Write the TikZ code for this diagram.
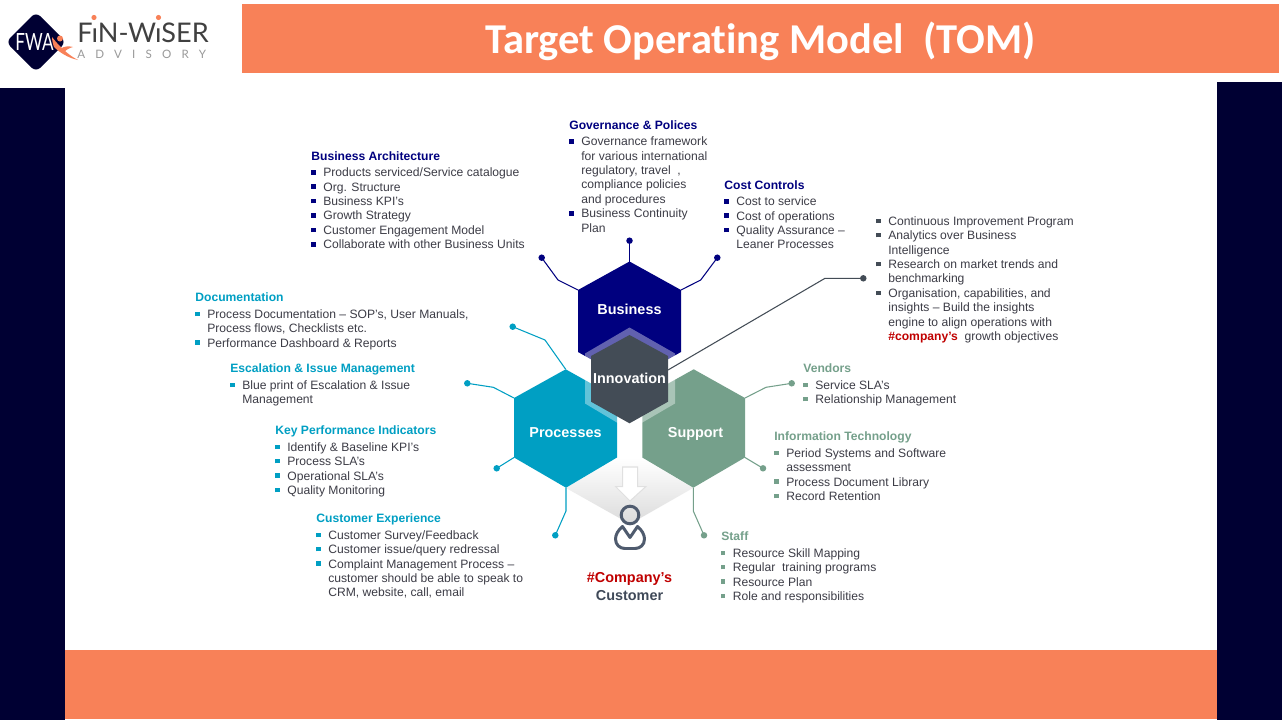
\documentclass[tikz,border=0pt]{standalone}
\usepackage{fontspec}
\setmainfont{Liberation Sans}
\newfontfamily\titlefont[Ligatures=NoCommon]{Carlito}
\newfontfamily\logofont{Lato}
\newfontfamily\spacedfont[LetterSpace=88]{Lato}
\usetikzlibrary{positioning}

\definecolor{orangeBar}{HTML}{F88158}
\definecolor{navyBand}{HTML}{000033}
\definecolor{bizBlue}{HTML}{00007F}
\definecolor{procTeal}{HTML}{009FC3}
\definecolor{suppGreen}{HTML}{75A08B}
\definecolor{innoGrey}{HTML}{434C56}
\definecolor{bodyGrey}{HTML}{3C3C46}
\definecolor{redText}{HTML}{C00000}
\definecolor{iconGrey}{HTML}{4F5B6E}

% bullet of a list, its colour comes from the list style
\newcommand{\blt}{\makebox[6.83pt][l]{\rule{0pt}{6pt}\textcolor{bulletColor}{\rule[1.2pt]{2.6pt}{2.6pt}}}}
\newcommand{\ind}{\hspace*{6.83pt}}

\begin{document}
\begin{tikzpicture}[%
    x=0.02cm,
    y=-0.02cm,
    hexLabel/.style={%
        inner sep=0pt,
        text=white,
        font=\fontsize{8.2}{9}\selectfont\bfseries
    },
    heading/.style={%
        anchor=base west,
        inner sep=0pt,
        yshift=-0.01cm,
        font=\fontsize{6.9}{8.2}\selectfont\bfseries
    },
    itemList/.style={%
        anchor=north west,
        inner sep=0pt,
        align=left,
        text=bodyGrey,
        font=\fontsize{6.9}{8.2}\selectfont
    },
    bizList/.style={itemList,execute at begin node={\colorlet{bulletColor}{bizBlue}}},
    procList/.style={itemList,execute at begin node={\colorlet{bulletColor}{procTeal}}},
    suppList/.style={itemList,execute at begin node={\colorlet{bulletColor}{suppGreen}}},
    innoList/.style={itemList,execute at begin node={\colorlet{bulletColor}{innoGrey}}},
    endDot/.style={%
        draw=none,
        circle,
        inner sep=0pt,
        minimum size=0.13cm
    },
    bizLine/.style={draw=bizBlue,line width=0.6pt},
    procLine/.style={draw=procTeal,line width=0.6pt},
    suppLine/.style={draw=suppGreen,line width=0.6pt}
]
\useasboundingbox (0,0) rectangle (1282,720);

% Bands
    \fill[white] (0,0) rectangle (1282,720);
    \fill[navyBand] (0,88) rectangle (65,720);
    \fill[navyBand] (1217,82) rectangle (1282,720);
    \fill[orangeBar] (65,650) rectangle (1217,719);
    \fill[orangeBar] (242,4) rectangle (1279,73);
    \node[inner sep=0pt,text=white,font=\fontsize{24.2}{26}\selectfont\titlefont\bfseries] (title) at (760.5,41) {Target Operating Model\ \ (TOM)};

% Logo
    \fill[navyBand,rounded corners=0.12cm] (36,12) -- (66,42) -- (36,72) -- (6,42) -- cycle;
    \node[inner sep=0pt,text=white,font=\fontsize{13.5}{14}\selectfont\logofont] (logoFWA) at (34.5,42) {\scalebox{0.72}[1]{FWA}};
    \fill[orangeBar] (52,37) .. controls (59,46) and (68,55) .. (78,60) .. controls (68,58) and (59,52) .. (54,47) .. controls (53,44) and (52,40) .. (52,37) -- cycle;
    \fill[orangeBar] (60,49) .. controls (64,46) and (69,46) .. (73,47) .. controls (69,48) and (66,50) .. (63,53) -- cycle;
    \fill[orangeBar] (60,38.5) circle (3);
    \node[inner sep=0pt,anchor=west,text=black!75,font=\fontsize{15.4}{16}\selectfont\logofont] (logoName) at (77,32.5) {F{\i}N-W{\i}SER};
    \fill[orangeBar] (94,17.5) circle (2.6);
    \fill[orangeBar] (158.5,17.5) circle (2.6);
    \node[inner sep=0pt,anchor=west,text=black!40,font=\fontsize{6.6}{8}\selectfont\spacedfont] (logoAdvisory) at (77,54) {ADVISORY};

% Customer funnel
    \shade[top color=white,bottom color=black!14] (566,488) -- (617,458) -- (642,458) -- (693,488) -- (630,524) -- cycle;
    \draw[draw=black!12,fill=white,line width=0.6pt] (622.7,467) -- (637.7,467) -- (637.7,486.7) -- (645.7,486.7) -- (630,501) -- (615.7,486.7) -- (622.7,486.7) -- cycle;

% Hexagons
    \fill[bizBlue] (629.5,261.5) coordinate (bizTop) -- (681,290) coordinate (bizRight) -- (681,352) -- (629.5,381) -- (578,352) -- (578,290) coordinate (bizLeft) -- cycle;
    \fill[procTeal] (565.7,369.3) coordinate (procTop) -- (617,398) -- (617,457.5) -- (566,487.7) coordinate (procBottom) -- (514,457.5) coordinate (procLow) -- (514,398) coordinate (procLeft) -- cycle;
    \fill[suppGreen] (693.7,369.3) -- (745,398) coordinate (suppRight) -- (745,457.5) coordinate (suppLow) -- (693.3,487.7) coordinate (suppBottom) -- (642.3,457.5) -- (642.3,398) -- cycle;
    \fill[white,opacity=0.38] (629.5,327.5) -- (675,353.5) -- (675,403.5) -- (629.5,430) -- (585,403.5) -- (585,353.5) -- cycle;
    \fill[innoGrey] (629.5,335) -- (668,356) -- (668,401.7) -- (629.5,423.3) -- (591,401.7) -- (591,356) -- cycle;
    \coordinate (innoRight) at (668,370);

    \node[hexLabel] (business) at (629.5,309) {Business};
    \node[hexLabel] (innovation) at (629.5,378) {Innovation};
    \node[hexLabel] (processes) at (565.5,432.5) {Processes};
    \node[hexLabel] (support) at (695.5,433.5) {Support};

% Person
    \draw[draw=iconGrey,line width=1.7pt] (630,515) circle (8.8);
    \draw[draw=iconGrey,fill=white,line width=1.7pt,line join=round] (622.5,526.5) -- (630,537.5) -- (637.5,526.5) .. controls (642,530) and (644.5,535) .. (644.5,539) .. controls (644.5,545) and (640,548.5) .. (635,548.5) -- (625,548.5) .. controls (620,548.5) and (615.5,545) .. (615.5,539) .. controls (615.5,535) and (618,530) .. (622.5,526.5) -- cycle;
    \node[inner sep=0pt,text=redText,font=\fontsize{8.2}{9}\selectfont\bfseries] (companyName) at (629.5,578.5) {\#Company’s};
    \node[inner sep=0pt,text=iconGrey!80!black,font=\fontsize{8.2}{9}\selectfont\bfseries] (customer) at (629.5,595.5) {Customer};

% End dots
    \node[endDot,fill=bizBlue] (dotArch) at (541.7,257.7) {};
    \node[endDot,fill=bizBlue] (dotGov) at (629.5,240.7) {};
    \node[endDot,fill=bizBlue] (dotCost) at (717.3,257.7) {};
    \node[endDot,fill=procTeal] (dotDoc) at (512.7,326.7) {};
    \node[endDot,fill=procTeal] (dotEsc) at (467.3,383.3) {};
    \node[endDot,fill=procTeal] (dotKpi) at (496.7,468.3) {};
    \node[endDot,fill=procTeal] (dotCx) at (555.3,535.3) {};
    \node[endDot,fill=suppGreen] (dotVendor) at (791.7,383.3) {};
    \node[endDot,fill=suppGreen] (dotIt) at (763,468.3) {};
    \node[endDot,fill=suppGreen] (dotStaff) at (704,535.3) {};
    \node[endDot,fill=innoGrey] (dotInno) at (863.3,278.3) {};

% Connectors
\draw[bizLine] (dotArch.center) -- (558,280) -- (bizLeft);
\draw[bizLine] (dotGov.center) -- (bizTop);
\draw[bizLine] (dotCost.center) -- (700.7,280) -- (bizRight);
\draw[procLine] (dotDoc.center) -- (545,340) -- (procTop);
\draw[procLine] (dotEsc.center) -- (493.3,387.3) -- (procLeft);
\draw[procLine] (dotKpi.center) -- (procLow);
\draw[procLine] (dotCx.center) -- (566,511) -- (procBottom);
\draw[suppLine] (dotVendor.center) -- (766,387.3) -- (suppRight);
\draw[suppLine] (dotIt.center) -- (suppLow);
\draw[suppLine] (dotStaff.center) -- (693.3,511) -- (suppBottom);
\draw[draw=innoGrey,line width=0.6pt] (dotInno.center) -- (825,278.3) -- (innoRight);

% Business texts
    \node[heading,text=bizBlue] (archHead) at (311,159.5) {Business Architecture};
    \node[bizList] (archList) at (311,165.8) {\blt Products serviced/Service catalogue\\ \blt Org. Structure\\ \blt Business KPI’s\\ \blt Growth Strategy\\ \blt Customer Engagement Model\\ \blt Collaborate with other Business Units};
    \node[heading,text=bizBlue] (govHead) at (569,128.5) {Governance \& Polices};
    \node[bizList] (govList) at (569,134.8) {\blt Governance framework\\ \ind for various international\\ \ind regulatory, travel\ \ ,\\ \ind compliance policies\\ \ind and procedures\\ \blt Business Continuity\\ \ind Plan};
    \node[heading,text=bizBlue] (costHead) at (724,188.5) {Cost Controls};
    \node[bizList] (costList) at (724,194.8) {\blt Cost to service\\ \blt Cost of operations\\ \blt Quality Assurance --\\ \ind Leaner Processes};

% Innovation texts
    \node[innoList] (innoList) at (876,214.3) {\blt Continuous Improvement Program\\ \blt Analytics over Business\\ \ind Intelligence\\ \blt Research on market trends and\\ \ind benchmarking\\ \blt Organisation, capabilities, and\\ \ind insights -- Build the insights\\ \ind engine to align operations with\\ \ind \textcolor{redText}{\bfseries\#company's}\ \ growth objectives};

% Processes texts
    \node[heading,text=procTeal] (docHead) at (195,301) {Documentation};
    \node[procList] (docList) at (195,307.3) {\blt Process Documentation -- SOP’s, User Manuals,\\ \ind Process flows, Checklists etc.\\ \blt Performance Dashboard \& Reports};
    \node[heading,text=procTeal] (escHead) at (230,371.5) {Escalation \& Issue Management};
    \node[procList] (escList) at (230,378.3) {\blt Blue print of Escalation \& Issue\\ \ind Management};
    \node[heading,text=procTeal] (kpiHead) at (275,434) {Key Performance Indicators};
    \node[procList] (kpiList) at (275,440.3) {\blt Identify \& Baseline KPI’s\\ \blt Process SLA’s\\ \blt Operational SLA’s\\ \blt Quality Monitoring};
    \node[heading,text=procTeal] (cxHead) at (316,522) {Customer Experience};
    \node[procList] (cxList) at (316,528.3) {\blt Customer Survey/Feedback\\ \blt Customer issue/query redressal\\ \blt Complaint Management Process --\\ \ind customer should be able to speak to\\ \ind CRM, website, call, email};

% Support texts
    \node[heading,text=suppGreen] (vendorHead) at (803,372) {Vendors};
    \node[suppList] (vendorList) at (803,378.3) {\blt Service SLA’s\\ \blt Relationship Management};
    \node[heading,text=suppGreen] (itHead) at (774,440) {Information Technology};
    \node[suppList] (itList) at (774,446.3) {\blt Period Systems and Software\\ \ind assessment\\ \blt Process Document Library\\ \blt Record Retention};
    \node[heading,text=suppGreen] (staffHead) at (721,540) {Staff};
    \node[suppList] (staffList) at (720.5,546.3) {\blt Resource Skill Mapping\\ \blt Regular\ \ training programs\\ \blt Resource Plan\\ \blt Role and responsibilities};

\end{tikzpicture}
\end{document}
